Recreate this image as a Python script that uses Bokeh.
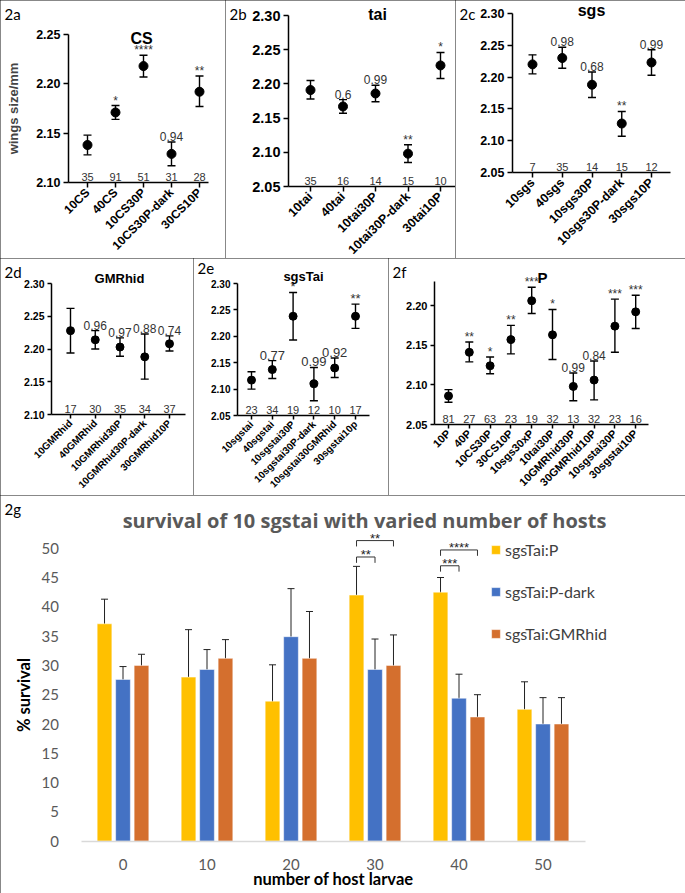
import math
import numpy as np
from bokeh.plotting import figure
from bokeh.layouts import column, row
from bokeh.models import (ColumnDataSource, Whisker, TeeHead, Range1d, FixedTicker,
                          Label, LabelSet, Legend, LegendItem, PrintfTickFormatter)
from bokeh.core.properties import value
from bokeh.embed import file_html
from bokeh.resources import INLINE

ARIAL = "Liberation Sans"
CAL = "Lato"

# ---------------- data: wing size panels ----------------
cs_groups = ["10CS", "40CS", "10CS30P", "10CS30P-dark", "30CS10P"]
cs_mean = [2.138, 2.171, 2.218, 2.129, 2.192]
cs_low = [2.128, 2.164, 2.207, 2.117, 2.177]
cs_high = [2.148, 2.178, 2.229, 2.141, 2.208]
cs_sig = ["", "*", "****", "0.94", "**"]
cs_n = [35, 91, 51, 31, 28]

tai_groups = ["10tai", "40tai", "10tai30P", "10tai30P-dark", "30tai10P"]
tai_mean = [2.191, 2.167, 2.186, 2.098, 2.227]
tai_low = [2.178, 2.157, 2.174, 2.085, 2.208]
tai_high = [2.205, 2.177, 2.198, 2.111, 2.246]
tai_sig = ["", "0.6", "0.99", "**", "*"]
tai_n = [35, 16, 14, 15, 10]

sgs_groups = ["10sgs", "40sgs", "10sgs30P", "10sgs30P-dark", "30sgs10P"]
sgs_mean = [2.220, 2.230, 2.188, 2.127, 2.223]
sgs_low = [2.205, 2.214, 2.168, 2.107, 2.203]
sgs_high = [2.235, 2.247, 2.208, 2.146, 2.243]
sgs_sig = ["", "0.98", "0.68", "**", "0.99"]
sgs_n = [7, 35, 14, 15, 12]

gmr_groups = ["10GMRhid", "40GMRhid", "10GMRhid30P", "10GMRhid30P-dark", "30GMRhid10P"]
gmr_mean = [2.228, 2.214, 2.203, 2.188, 2.208]
gmr_low = [2.194, 2.200, 2.189, 2.154, 2.197]
gmr_high = [2.262, 2.228, 2.217, 2.223, 2.220]
gmr_sig = ["", "0.96", "0.97", "0.88", "0.74"]
gmr_n = [17, 30, 35, 34, 37]

st_groups = ["10sgstai", "40sgstai", "10sgstai30P", "10sgstai30P-dark", "10sgstai30GMRhid", "30sgstai10p"]
st_mean = [2.117, 2.137, 2.238, 2.110, 2.140, 2.238]
st_low = [2.100, 2.120, 2.193, 2.078, 2.122, 2.215]
st_high = [2.133, 2.154, 2.283, 2.141, 2.159, 2.261]
st_sig = ["", "0.77", "*", "0.99", "0.92", "**"]
st_n = [23, 34, 19, 12, 10, 17]

p_groups = ["10P", "40P", "10CS30P", "30CS10P", "10sgs30xP", "10tai30P",
            "10GMRhid30P", "30GMRhid10P", "10sgstai30P", "30sgstai10P"]
p_mean = [2.086, 2.141, 2.124, 2.157, 2.206, 2.163, 2.098, 2.106, 2.174, 2.192]
p_low = [2.078, 2.129, 2.114, 2.139, 2.190, 2.132, 2.080, 2.081, 2.141, 2.171]
p_high = [2.094, 2.154, 2.135, 2.175, 2.223, 2.195, 2.115, 2.130, 2.208, 2.213]
p_sig = ["", "**", "*", "**", "***", "*", "0.99", "0.84", "***", "***"]
p_n = [81, 27, 63, 23, 19, 32, 13, 32, 23, 16]

# ---------------- data: survival panel ----------------
hosts = ["0", "10", "20", "30", "40", "50"]
series_names = ["sgsTai:P", "sgsTai:P-dark", "sgsTai:GMRhid"]
surv_P = [37.1, 28.0, 23.9, 42.0, 42.5, 22.5]
surv_P_lo = [33.0, 19.9, 18.0, 37.1, 40.0, 17.6]
surv_P_hi = [41.3, 36.1, 30.1, 46.9, 45.0, 27.2]
surv_dark = [27.6, 29.3, 34.9, 29.3, 24.4, 20.0]
surv_dark_lo = [25.5, 25.9, 26.9, 24.3, 20.3, 15.5]
surv_dark_hi = [29.8, 32.7, 43.1, 34.5, 28.5, 24.5]
surv_gmr = [30.0, 31.2, 31.2, 30.0, 21.2, 20.0]
surv_gmr_lo = [27.9, 27.9, 23.3, 24.9, 17.1, 15.5]
surv_gmr_hi = [31.9, 34.4, 39.2, 35.2, 25.0, 24.5]
sig_host = ["30", "30", "40", "40"]
sig_series = ["sgsTai:P-dark", "sgsTai:GMRhid", "sgsTai:P-dark", "sgsTai:GMRhid"]
sig_level = [48.5, 51.3, 47.0, 49.7]
sig_stars = ["**", "**", "***", "****"]

BORDER = {"outline": "1.5px solid #111", "outline-offset": "-1.5px"}


def base_fig(W, H, xr, yr):
    p = figure(width=W, height=H, output_backend="svg", toolbar_location=None,
               x_range=xr, y_range=yr, min_border=0, styles=BORDER)
    p.min_border_left = 0
    p.min_border_right = 0
    p.min_border_top = 0
    p.min_border_bottom = 0
    p.outline_line_color = None
    p.xgrid.visible = False
    p.ygrid.visible = False
    return p


def screen_text(p, H, x, y, text, font, size, bold=False, color="black",
                align="left", baseline="top"):
    p.add_layout(Label(x=x, y=H - y, x_units="screen", y_units="screen", text=text,
                       text_font=font, text_font_size=f"{size}px",
                       text_font_style="bold" if bold else "normal",
                       text_color=color, text_align=align, text_baseline=baseline))


def dot_panel(tag, title, groups, mean, low, high, sig, n, geo, fs, ylabel=None):
    W, H = geo["size"]
    s, d0 = geo["step"], geo["d0"]
    ylo, yhi = geo["ylim"]
    yt, yb = geo["ypx"]
    per = (yhi - ylo) / (yb - yt)
    p = base_fig(W, H, Range1d(-d0 / s, (W - d0) / s),
                 Range1d(ylo - (H - yb) * per, yhi + yt * per))
    idx = list(range(len(groups)))
    src = ColumnDataSource(dict(
        x=idx, mean=mean, low=low, high=high, sig=sig,
        n=[str(v) for v in n], ybase=[ylo] * len(groups),
        off=[-2 if t.startswith("*") else 1 for t in sig]))
    hd = dict(size=fs["cap"], line_width=1.4, line_color="black")
    p.add_layout(Whisker(source=src, base="x", upper="high", lower="low",
                         line_width=1.4, line_color="black",
                         upper_head=TeeHead(**hd), lower_head=TeeHead(**hd)))
    p.scatter("x", "mean", source=src, size=fs["dot"], color="black")
    p.add_layout(LabelSet(x="x", y="high", text="sig", source=src, y_offset="off",
                          text_align="center", text_baseline="bottom",
                          text_font=value(ARIAL), text_font_size=f"{fs['sig']}px",
                          text_color="#333333"))
    p.add_layout(LabelSet(x="x", y="ybase", text="n", source=src, y_offset=2,
                          text_align="center", text_baseline="bottom",
                          text_font=value(ARIAL), text_font_size=f"{fs['n']}px",
                          text_color="#333333"))
    xa = p.xaxis[0]
    ya = p.yaxis[0]
    ax_x = (geo["axis"] - d0) / s
    xa.fixed_location = ylo
    ya.fixed_location = ax_x
    xa.bounds = (ax_x, (geo["xend"] - d0) / s)
    ya.bounds = geo.get("ybounds", (ylo, yhi))
    xa.ticker = FixedTicker(ticks=idx)
    xa.major_label_overrides = {i: g for i, g in enumerate(groups)}
    xa.major_label_orientation = math.pi / 4
    xa.major_label_standoff = 3
    ya.ticker = FixedTicker(ticks=geo["yticks"])
    ya.formatter = PrintfTickFormatter(format="%.2f")
    ya.major_label_standoff = 3
    for ax in (xa, ya):
        ax.axis_line_width = 1.5
        ax.axis_line_color = "black"
        ax.major_tick_line_width = 1.5
        ax.major_tick_line_color = "black"
        ax.major_tick_in = 0
        ax.major_tick_out = fs.get("tick", 5)
        ax.minor_tick_line_color = None
        ax.major_label_text_font = ARIAL
        ax.major_label_text_font_style = "bold"
        ax.major_label_text_color = "black"
    xa.major_label_text_font_size = f"{fs['x']}px"
    ya.major_label_text_font_size = f"{fs['y']}px"
    if ylabel:
        ya.axis_label = ylabel
        ya.axis_label_text_font = ARIAL
        ya.axis_label_text_font_style = "bold"
        ya.axis_label_text_font_size = "13px"
        ya.axis_label_standoff = 12
    screen_text(p, H, geo["title"][0], geo["title"][1], title, ARIAL, fs["title"],
                bold=True, align="center", baseline="middle")
    screen_text(p, H, 4, 4, tag, CAL, 15)
    return p


pa = dot_panel("2a", "CS", cs_groups, cs_mean, cs_low, cs_high, cs_sig, cs_n,
               dict(size=(225, 258), axis=68, d0=87, step=28, xend=208,
                    ylim=(2.10, 2.25), ypx=(34, 182),
                    yticks=[2.10, 2.15, 2.20, 2.25], title=(141, 38)),
               dict(x=12, y=12.5, sig=12, n=11, title=16, cap=8, dot=9),
               ylabel="wings size/mm")
pb = dot_panel("2b", "tai", tai_groups, tai_mean, tai_low, tai_high, tai_sig, tai_n,
               dict(size=(230, 258), axis=63, d0=85, step=32.5, xend=230,
                    ylim=(2.05, 2.30), ypx=(15, 186),
                    yticks=[2.05, 2.10, 2.15, 2.20, 2.25, 2.30], title=(152, 14)),
               dict(x=12.5, y=14.5, sig=12, n=11, title=16, cap=8, dot=9))
pc = dot_panel("2c", "sgs", sgs_groups, sgs_mean, sgs_low, sgs_high, sgs_sig, sgs_n,
               dict(size=(230, 258), axis=57, d0=77, step=29.75, xend=215,
                    ylim=(2.05, 2.30), ypx=(13, 172),
                    yticks=[2.05, 2.10, 2.15, 2.20, 2.25, 2.30], title=(136, 10)),
               dict(x=12.5, y=12.5, sig=12, n=11, title=16, cap=8, dot=9))
pd_ = dot_panel("2d", "GMRhid", gmr_groups, gmr_mean, gmr_low, gmr_high, gmr_sig, gmr_n,
                dict(size=(193, 237), axis=51, d0=70, step=24.75, xend=185,
                     ylim=(2.10, 2.30), ypx=(25, 156),
                     yticks=[2.10, 2.15, 2.20, 2.25, 2.30], title=(119, 20)),
                dict(x=10, y=10.5, sig=12, n=11, title=13, cap=8, dot=8, tick=4))
pe = dot_panel("2e", "sgsTai", st_groups, st_mean, st_low, st_high, st_sig, st_n,
               dict(size=(195, 237), axis=44, d0=58, step=20.8, xend=176,
                    ylim=(2.05, 2.30), ypx=(25, 157),
                    yticks=[2.05, 2.10, 2.15, 2.20, 2.25, 2.30], title=(110, 18)),
               dict(x=10, y=10, sig=13, n=11, title=13, cap=8, dot=8, tick=4))
pf = dot_panel("2f", "P", p_groups, p_mean, p_low, p_high, p_sig, p_n,
               dict(size=(297, 237), axis=46, d0=60, step=20.8, xend=260,
                    ylim=(2.05, 2.20), ypx=(47, 166), ybounds=(2.05, 2.23),
                    yticks=[2.05, 2.10, 2.15, 2.20], title=(154, 19)),
               dict(x=11, y=11, sig=12, n=11, title=15, cap=8, dot=8, tick=4))

# ---------------- survival panel ----------------
GW, GH = 685, 398
g_d0, g_step = 122.5, 84.0          # pixel of first group centre, pixels per group
g_y0px, g_y50px = 345.7, 52.7       # pixel rows of 0 and 50 %
g_per = 50.0 / (g_y0px - g_y50px)
pg = base_fig(GW, GH, Range1d(-g_d0 / g_step, (GW - g_d0) / g_step),
              Range1d(-(GH - g_y0px) * g_per, 50 + g_y50px * g_per))

colors = ["#FFC000", "#4472C4", "#D46F2E"]
offsets = [-0.22, 0.0, 0.22]
vals = [(surv_P, surv_P_lo, surv_P_hi), (surv_dark, surv_dark_lo, surv_dark_hi),
        (surv_gmr, surv_gmr_lo, surv_gmr_hi)]
xi = np.arange(len(hosts))
renderers = []
for name, col, off, (v, lo, hi) in zip(series_names, colors, offsets, vals):
    src = ColumnDataSource(dict(x=xi + off, top=v, lo=lo, hi=hi))
    r = pg.vbar(x="x", top="top", width=0.175, source=src, fill_color=col,
                line_color="white", line_width=0.5)
    renderers.append(r)
    hd = dict(size=7, line_width=1, line_color="#222222")
    pg.add_layout(Whisker(source=src, base="x", upper="hi", lower="lo",
                          line_width=1, line_color="#222222",
                          upper_head=TeeHead(**hd), lower_head=TeeHead(**hd)))

# significance brackets
off_of = dict(zip(series_names, offsets))
bx0 = [hosts.index(h) + off_of[series_names[0]] for h in sig_host]
bx1 = [hosts.index(h) + off_of[s] for h, s in zip(sig_host, sig_series)]
leg = 1.0
pg.multi_line(xs=[[a, a, b, b] for a, b in zip(bx0, bx1)],
              ys=[[y - leg, y, y, y - leg] for y in sig_level],
              line_color="#333333", line_width=1)
ssrc = ColumnDataSource(dict(x=[(a + b) / 2 for a, b in zip(bx0, bx1)],
                             y=sig_level, t=sig_stars))
pg.add_layout(LabelSet(x="x", y="y", text="t", source=ssrc, text_align="center",
                       text_baseline="bottom", y_offset=-5, text_font=value(ARIAL),
                       text_font_size="13px", text_color="#222222"))

xa = pg.xaxis[0]
ya = pg.yaxis[0]
xa.fixed_location = 0
ya.fixed_location = -0.5
xa.bounds = (-0.5, len(hosts) - 0.5)
ya.bounds = (0, 50)
xa.ticker = FixedTicker(ticks=[int(i) for i in xi])
xa.major_label_overrides = {int(i): h for i, h in zip(xi, hosts)}
ya.ticker = FixedTicker(ticks=list(range(0, 51, 5)))
xa.axis_line_color = "#D9D9D9"
xa.axis_line_width = 1.5
ya.axis_line_color = None
for ax in (xa, ya):
    ax.major_tick_line_color = None
    ax.minor_tick_line_color = None
    ax.major_label_text_font = CAL
    ax.major_label_text_font_size = "15px"
    ax.major_label_text_color = "#595959"
    ax.axis_label_text_font = CAL
    ax.axis_label_text_font_style = "bold"
    ax.axis_label_text_font_size = "16.5px"
    ax.axis_label_text_color = "black"
xa.major_label_standoff = 12
xa.axis_label_standoff = -5
ya.major_label_standoff = 16
ya.axis_label_standoff = 5
xa.axis_label = "number of host larvae"
ya.axis_label = "% survival"

legend = Legend(items=[LegendItem(label=nm, renderers=[r]) for nm, r in zip(series_names, renderers)],
                location=(490, GH - 148), orientation="vertical",
                glyph_width=11, glyph_height=11,
                label_text_font=CAL, label_text_font_size="16px", label_text_color="#404040",
                spacing=22, padding=0, margin=0, border_line_color=None,
                background_fill_alpha=0, label_standoff=4, label_height=20)
pg.add_layout(legend)

screen_text(pg, GH, 364, 25, "survival of 10 sgstai with varied number of hosts",
            "Open Sans", 20, bold=True, color="#595959", align="center", baseline="alphabetic")
screen_text(pg, GH, 4, 4, "2g", CAL, 15)

layout = column(row(pa, pb, pc), row(pd_, pe, pf), pg)
open("out.html", "w").write(file_html(layout, INLINE))
